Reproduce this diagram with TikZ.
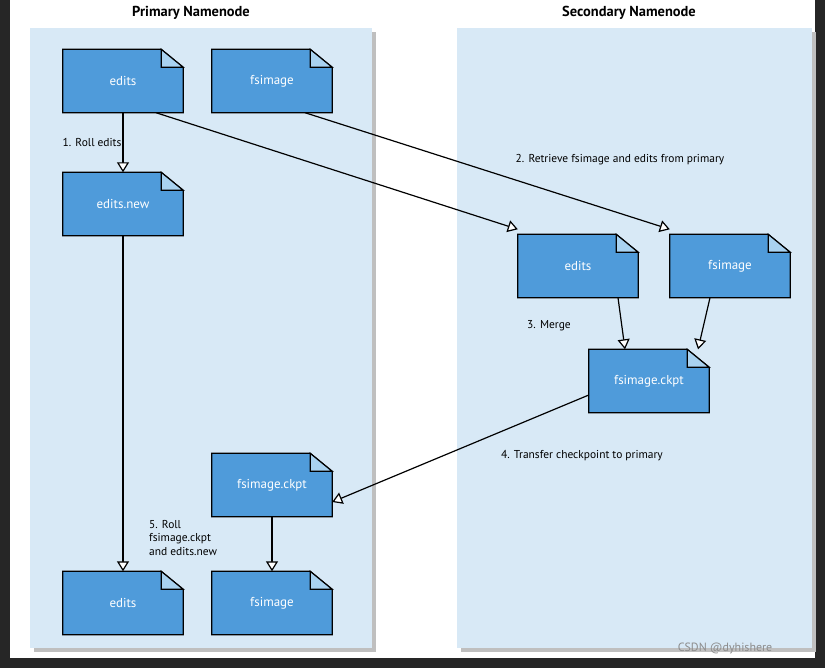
\documentclass[tikz,border=0pt]{standalone}
\usepackage{fontspec}
\setmainfont{PT Sans}
\usetikzlibrary{arrows.meta,backgrounds}
\definecolor{docblue}{HTML}{4F9BDA}
\definecolor{foldblue}{HTML}{A9D2F0}
\definecolor{panelblue}{HTML}{D8E9F6}
\tikzset{
  doc/.style={minimum width=120bp,minimum height=63bp,inner sep=0pt,text=white,font=\fontsize{13}{15}\selectfont},
  flow/.style={-{Triangle[width=12bp,length=10bp,fill=white]},line width=1.2pt},
  lbl/.style={font=\fontsize{11.5}{14}\selectfont,inner sep=1pt}
}
\begin{document}
\begin{tikzpicture}[x=1bp,y=-1bp]
\useasboundingbox (0,0) rectangle (825,668);
\begin{scope}[on background layer]
\fill[black!85] (0,0) rectangle (825,668);
\fill[white] (10,0) rectangle (815,658);
% panels
\fill[black!25] (34,32) rectangle (376,652);
\fill[panelblue] (30,28) rectangle (372,648);
\fill[black!25] (461,32) rectangle (816,652);
\fill[panelblue] (457,28) rectangle (812,648);
\end{scope}
\node[font=\bfseries\fontsize{14.5}{17}\selectfont] (tprim) at (191,13) {Primary Namenode};
\node[font=\bfseries\fontsize{14.5}{17}\selectfont] (tsec) at (629,13) {Secondary Namenode};
% documents
\node[doc] (e1) at (123,81) {edits};
\node[doc] (f1) at (272,81) {fsimage};
\node[doc] (en) at (123,204) {edits.new};
\node[doc] (e2) at (578,266) {edits};
\node[doc] (f2) at (730,266) {fsimage};
\node[doc] (c2) at (649,381) {fsimage.ckpt};
\node[doc] (c1) at (272,485) {fsimage.ckpt};
\node[doc] (e3) at (123,603) {edits};
\node[doc] (f3) at (272,603) {fsimage};
\begin{scope}[on background layer]
\foreach \d in {e1,f1,en,e2,f2,c2,c1,e3,f3} {
  \draw[fill=docblue,line width=1.2pt] (\d.south west) -- (\d.north west)
    -- ([xshift=-22bp]\d.north east) -- ([yshift=-18bp]\d.north east) -- (\d.south east) -- cycle;
  \draw[fill=foldblue,line width=1.2pt] ([xshift=-22bp]\d.north east) -- ([xshift=-22bp,yshift=-18bp]\d.north east)
    -- ([yshift=-18bp]\d.north east) -- cycle;
}
\end{scope}
% flows
\draw[flow] (e1) -- (en) node[lbl,midway,left] {1. Roll edits};
\draw[flow] ([xshift=33bp]e1.south) -- ([yshift=5bp]e2.north west);
\draw[flow] ([xshift=33bp]f1.south) -- ([yshift=5bp]f2.north west);
\node[lbl] (l2) at (620,160) {2. Retrieve fsimage and edits from primary};
\draw[flow] ([xshift=40bp]e2.south) -- ([xshift=-24bp]c2.north);
\draw[flow] ([xshift=-20bp]f2.south) -- ([xshift=49bp]c2.north);
\node[lbl] (l3) at (549,326) {3. Merge};
\draw[flow] ([yshift=-14bp]c2.west) -- ([yshift=-17bp]c1.east);
\node[lbl] (l4) at (582,456) {4. Transfer checkpoint to primary};
\draw[flow] (en) -- (e3);
\draw[flow] (c1) -- (f3);
\node[lbl,align=left,anchor=west] (l5) at (148,538) {5. Roll\\fsimage.ckpt\\and edits.new};
\node[font=\fontsize{12}{14}\selectfont,text=black!45] (wm) at (725,648) {CSDN @dyhishere};
\end{tikzpicture}
\end{document}
